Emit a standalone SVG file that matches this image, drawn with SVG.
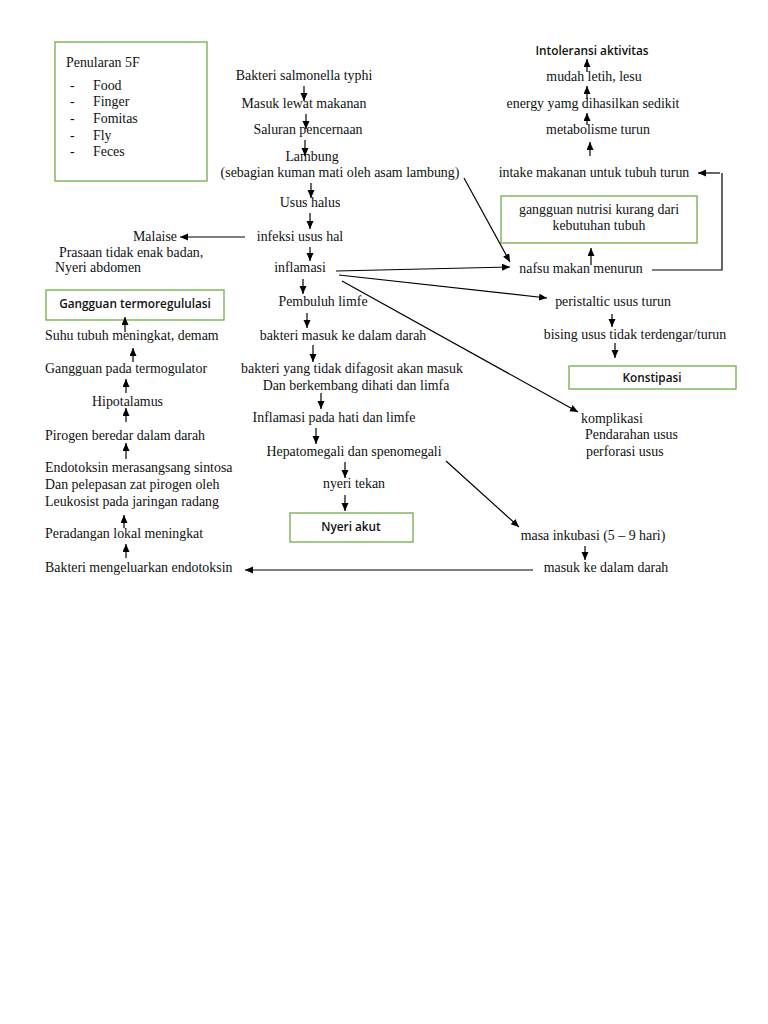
<svg xmlns="http://www.w3.org/2000/svg" width="768" height="1024" viewBox="0 0 768 1024">
<defs>
<marker id="ah" markerUnits="userSpaceOnUse" markerWidth="9" markerHeight="8" refX="8" refY="3.5" orient="auto">
<path d="M0,0 L8,3.5 L0,7 z" fill="#000"/>
</marker>
<style>
.t{font-family:"Liberation Serif","Times New Roman",serif;font-size:13.9px;fill:#111}
.m{text-anchor:middle}
.s{font-family:"Open Sans","Noto Sans",sans-serif;font-size:11.8px;font-weight:600;fill:#111;text-anchor:middle}
.box{fill:#fff;stroke:#70ad47;stroke-width:1.3}
.c line,.c polyline{stroke:#000;stroke-width:1.2;fill:none}
.a{marker-end:url(#ah)}
</style>
</defs>
<rect width="768" height="1024" fill="#fff"/>

<g id="penularan">
<rect class="box" x="55" y="42" width="152" height="139"/>
<text class="t" x="66" y="67">Penularan 5F</text>
<text class="t" x="70" y="90">-</text><text class="t" x="93" y="90">Food</text>
<text class="t" x="70" y="106">-</text><text class="t" x="93" y="106">Finger</text>
<text class="t" x="70" y="123">-</text><text class="t" x="93" y="123">Fomitas</text>
<text class="t" x="70" y="140">-</text><text class="t" x="93" y="140">Fly</text>
<text class="t" x="70" y="156">-</text><text class="t" x="93" y="156">Feces</text>
</g>

<g id="bakteri"><text class="t m" x="304" y="80">Bakteri salmonella typhi</text></g>
<g id="masuk"><text class="t m" x="304" y="108">Masuk lewat makanan</text></g>
<g id="saluran"><text class="t m" x="308" y="134">Saluran pencernaan</text></g>
<g id="lambung"><text class="t m" x="312" y="161">Lambung</text><text class="t m" x="340" y="177">(sebagian kuman mati oleh asam lambung)</text></g>
<g id="usus"><text class="t m" x="310" y="207">Usus halus</text></g>
<g id="infeksi"><text class="t m" x="300" y="241">infeksi usus hal</text></g>
<g id="inflamasi"><text class="t m" x="300" y="272">inflamasi</text></g>
<g id="pembuluh"><text class="t m" x="323" y="306">Pembuluh limfe</text></g>
<g id="bakteri-darah"><text class="t m" x="343" y="340">bakteri masuk ke dalam darah</text></g>
<g id="difagosit"><text class="t m" x="352" y="373">bakteri yang tidak difagosit akan masuk</text><text class="t m" x="356" y="390">Dan berkembang dihati dan limfa</text></g>
<g id="inflamasi-hati"><text class="t m" x="334" y="422">Inflamasi pada hati dan limfe</text></g>
<g id="hepatomegali"><text class="t m" x="354" y="456">Hepatomegali dan spenomegali</text></g>
<g id="nyeri-tekan"><text class="t m" x="354" y="488">nyeri tekan</text></g>
<g id="nyeri-akut"><rect class="box" x="290" y="513" width="123" height="29"/><text class="s" x="351" y="531">Nyeri akut</text></g>

<g id="intoleransi"><text class="s" x="592" y="55">Intoleransi aktivitas</text></g>
<g id="mudah"><text class="t m" x="594" y="81">mudah letih, lesu</text></g>
<g id="energy"><text class="t m" x="593" y="108">energy yamg dihasilkan sedikit</text></g>
<g id="metabolisme"><text class="t m" x="598" y="134">metabolisme turun</text></g>
<g id="intake"><text class="t m" x="594" y="177">intake makanan untuk tubuh turun</text></g>
<g id="nutrisi"><rect class="box" x="501" y="196" width="196" height="47"/><text class="t m" x="599" y="214">gangguan nutrisi kurang dari</text><text class="t m" x="599" y="230">kebutuhan tubuh</text></g>
<g id="nafsu"><text class="t m" x="581" y="273">nafsu makan menurun</text></g>
<g id="peristaltic"><text class="t m" x="613" y="306">peristaltic usus turun</text></g>
<g id="bising"><text class="t m" x="635" y="339">bising usus tidak terdengar/turun</text></g>
<g id="konstipasi"><rect class="box" x="569" y="366" width="167" height="23"/><text class="s" x="652" y="382">Konstipasi</text></g>
<g id="komplikasi"><text class="t" x="581" y="423">komplikasi</text><text class="t" x="585" y="439">Pendarahan usus</text><text class="t" x="586" y="456">perforasi usus</text></g>
<g id="masa"><text class="t m" x="593" y="540">masa inkubasi (5 – 9 hari)</text></g>
<g id="masuk-darah"><text class="t m" x="606" y="572">masuk ke dalam darah</text></g>

<g id="malaise"><text class="t" x="133" y="241">Malaise</text><text class="t" x="59" y="257">Prasaan tidak enak badan,</text><text class="t" x="55" y="272">Nyeri abdomen</text></g>
<g id="termoregulasi"><rect class="box" x="46" y="290" width="178" height="30"/><text class="s" x="135" y="308">Gangguan termoregululasi</text></g>
<g id="suhu"><text class="t" x="45" y="340">Suhu tubuh meningkat, demam</text></g>
<g id="termogulator"><text class="t" x="45" y="373">Gangguan pada termogulator</text></g>
<g id="hipotalamus"><text class="t" x="92" y="406">Hipotalamus</text></g>
<g id="pirogen"><text class="t" x="45" y="440">Pirogen beredar dalam darah</text></g>
<g id="endotoksin"><text class="t" x="45" y="472">Endotoksin merasangsang sintosa</text><text class="t" x="45" y="489">Dan pelepasan zat pirogen oleh</text><text class="t" x="45" y="506">Leukosist pada jaringan radang</text></g>
<g id="peradangan"><text class="t" x="45" y="538">Peradangan lokal meningkat</text></g>
<g id="bakteri-endotoksin"><text class="t" x="45" y="572">Bakteri mengeluarkan endotoksin</text></g>

<g id="connectors" class="c">
<line class="a" x1="304" y1="86" x2="304" y2="101"/>
<line class="a" x1="306" y1="114" x2="306" y2="129"/>
<line class="a" x1="305" y1="140" x2="305" y2="156"/>
<line class="a" x1="311" y1="183" x2="311" y2="198"/>
<line class="a" x1="310" y1="213" x2="310" y2="229"/>
<line class="a" x1="310" y1="247" x2="310" y2="261"/>
<line class="a" x1="303" y1="279" x2="303" y2="294"/>
<line class="a" x1="307" y1="313" x2="307" y2="328"/>
<line class="a" x1="313" y1="345" x2="313" y2="362"/>
<line class="a" x1="321" y1="393" x2="321" y2="409"/>
<line class="a" x1="316" y1="428" x2="316" y2="444"/>
<line class="a" x1="345" y1="462" x2="345" y2="478"/>
<line class="a" x1="345" y1="495" x2="345" y2="511"/>
<line class="a" x1="587" y1="72" x2="587" y2="59"/>
<line class="a" x1="587" y1="99" x2="587" y2="86"/>
<line class="a" x1="587" y1="125" x2="587" y2="113"/>
<line class="a" x1="590" y1="156" x2="590" y2="142"/>
<line class="a" x1="591" y1="265" x2="591" y2="248"/>
<polyline points="652,270 722,270 722,173"/>
<line class="a" x1="720" y1="173" x2="698" y2="173"/>
<line class="a" x1="464" y1="178" x2="510" y2="262"/>
<line class="a" x1="336" y1="271" x2="510" y2="267"/>
<line class="a" x1="339" y1="275" x2="547" y2="298"/>
<line class="a" x1="342" y1="281" x2="578" y2="412"/>
<line class="a" x1="446" y1="461" x2="519" y2="527"/>
<line class="a" x1="612" y1="314" x2="612" y2="327"/>
<line class="a" x1="615" y1="343" x2="615" y2="358"/>
<line class="a" x1="585" y1="546" x2="585" y2="560"/>
<line class="a" x1="533" y1="570" x2="245" y2="570"/>
<line class="a" x1="245" y1="237" x2="180" y2="237"/>
<line class="a" x1="125" y1="332" x2="125" y2="317"/>
<line class="a" x1="133" y1="362" x2="133" y2="348"/>
<line class="a" x1="126" y1="393" x2="126" y2="379"/>
<line class="a" x1="126" y1="422" x2="126" y2="408"/>
<line class="a" x1="126" y1="459" x2="126" y2="443"/>
<line class="a" x1="124" y1="528" x2="124" y2="515"/>
<line class="a" x1="126" y1="558" x2="126" y2="544"/>
</g>
</svg>
